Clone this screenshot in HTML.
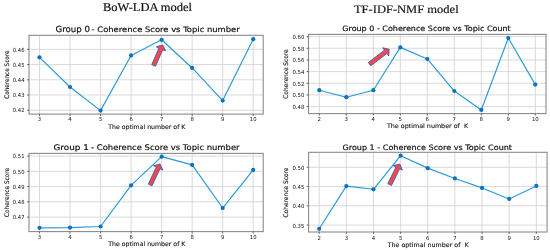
<!DOCTYPE html>
<html><head><meta charset="utf-8"><title>Coherence Score plots</title>
<style>html,body{margin:0;padding:0;background:#fff;overflow:hidden;}svg{display:block;} text{text-rendering:geometricPrecision;}</style></head>
<body><svg width="550" height="250" viewBox="0 0 550 250" font-family="'DejaVu Sans', 'Liberation Sans', sans-serif">
<defs><filter id="soft" x="0" y="0" width="1" height="1"><feGaussianBlur stdDeviation="0.25"/></filter></defs>
<rect width="550" height="250" fill="#fff"/>
<g filter="url(#soft)">
<rect width="550" height="250" fill="#fff"/>
<line x1="39.50" y1="35.3" x2="39.50" y2="114.1" stroke="#d0d0d0" stroke-width="0.8"/>
<line x1="70.03" y1="35.3" x2="70.03" y2="114.1" stroke="#d0d0d0" stroke-width="0.8"/>
<line x1="100.56" y1="35.3" x2="100.56" y2="114.1" stroke="#d0d0d0" stroke-width="0.8"/>
<line x1="131.09" y1="35.3" x2="131.09" y2="114.1" stroke="#d0d0d0" stroke-width="0.8"/>
<line x1="161.62" y1="35.3" x2="161.62" y2="114.1" stroke="#d0d0d0" stroke-width="0.8"/>
<line x1="192.15" y1="35.3" x2="192.15" y2="114.1" stroke="#d0d0d0" stroke-width="0.8"/>
<line x1="222.68" y1="35.3" x2="222.68" y2="114.1" stroke="#d0d0d0" stroke-width="0.8"/>
<line x1="253.21" y1="35.3" x2="253.21" y2="114.1" stroke="#d0d0d0" stroke-width="0.8"/>
<line x1="29" y1="110.25" x2="263.2" y2="110.25" stroke="#d0d0d0" stroke-width="0.8"/>
<line x1="29" y1="95.02" x2="263.2" y2="95.02" stroke="#d0d0d0" stroke-width="0.8"/>
<line x1="29" y1="79.79" x2="263.2" y2="79.79" stroke="#d0d0d0" stroke-width="0.8"/>
<line x1="29" y1="64.56" x2="263.2" y2="64.56" stroke="#d0d0d0" stroke-width="0.8"/>
<line x1="29" y1="49.33" x2="263.2" y2="49.33" stroke="#d0d0d0" stroke-width="0.8"/>
<rect x="29" y="35.3" width="234.20" height="78.80" fill="none" stroke="#8a8a8a" stroke-width="1.1"/>
<line x1="39.50" y1="114.1" x2="39.50" y2="116.00" stroke="#555" stroke-width="0.9"/>
<text x="39.50" y="121.17" font-size="5.6" text-anchor="middle" textLength="3.35" lengthAdjust="spacingAndGlyphs" fill="#111111">3</text>
<line x1="70.03" y1="114.1" x2="70.03" y2="116.00" stroke="#555" stroke-width="0.9"/>
<text x="70.03" y="121.17" font-size="5.6" text-anchor="middle" textLength="3.35" lengthAdjust="spacingAndGlyphs" fill="#111111">4</text>
<line x1="100.56" y1="114.1" x2="100.56" y2="116.00" stroke="#555" stroke-width="0.9"/>
<text x="100.56" y="121.17" font-size="5.6" text-anchor="middle" textLength="3.35" lengthAdjust="spacingAndGlyphs" fill="#111111">5</text>
<line x1="131.09" y1="114.1" x2="131.09" y2="116.00" stroke="#555" stroke-width="0.9"/>
<text x="131.09" y="121.17" font-size="5.6" text-anchor="middle" textLength="3.35" lengthAdjust="spacingAndGlyphs" fill="#111111">6</text>
<line x1="161.62" y1="114.1" x2="161.62" y2="116.00" stroke="#555" stroke-width="0.9"/>
<text x="161.62" y="121.17" font-size="5.6" text-anchor="middle" textLength="3.35" lengthAdjust="spacingAndGlyphs" fill="#111111">7</text>
<line x1="192.15" y1="114.1" x2="192.15" y2="116.00" stroke="#555" stroke-width="0.9"/>
<text x="192.15" y="121.17" font-size="5.6" text-anchor="middle" textLength="3.35" lengthAdjust="spacingAndGlyphs" fill="#111111">8</text>
<line x1="222.68" y1="114.1" x2="222.68" y2="116.00" stroke="#555" stroke-width="0.9"/>
<text x="222.68" y="121.17" font-size="5.6" text-anchor="middle" textLength="3.35" lengthAdjust="spacingAndGlyphs" fill="#111111">9</text>
<line x1="253.21" y1="114.1" x2="253.21" y2="116.00" stroke="#555" stroke-width="0.9"/>
<text x="253.21" y="121.17" font-size="5.6" text-anchor="middle" textLength="6.70" lengthAdjust="spacingAndGlyphs" fill="#111111">10</text>
<line x1="27.10" y1="110.25" x2="29" y2="110.25" stroke="#555" stroke-width="0.9"/>
<text x="24.5" y="112.42" font-size="5.6" text-anchor="end" textLength="11.72" lengthAdjust="spacingAndGlyphs" fill="#111111">0.42</text>
<line x1="27.10" y1="95.02" x2="29" y2="95.02" stroke="#555" stroke-width="0.9"/>
<text x="24.5" y="97.19" font-size="5.6" text-anchor="end" textLength="11.72" lengthAdjust="spacingAndGlyphs" fill="#111111">0.43</text>
<line x1="27.10" y1="79.79" x2="29" y2="79.79" stroke="#555" stroke-width="0.9"/>
<text x="24.5" y="81.96" font-size="5.6" text-anchor="end" textLength="11.72" lengthAdjust="spacingAndGlyphs" fill="#111111">0.44</text>
<line x1="27.10" y1="64.56" x2="29" y2="64.56" stroke="#555" stroke-width="0.9"/>
<text x="24.5" y="66.73" font-size="5.6" text-anchor="end" textLength="11.72" lengthAdjust="spacingAndGlyphs" fill="#111111">0.45</text>
<line x1="27.10" y1="49.33" x2="29" y2="49.33" stroke="#555" stroke-width="0.9"/>
<text x="24.5" y="51.50" font-size="5.6" text-anchor="end" textLength="11.72" lengthAdjust="spacingAndGlyphs" fill="#111111">0.46</text>
<polyline points="39.50,57.29 70.03,86.99 100.56,110.60 131.09,55.47 161.62,39.78 192.15,67.96 222.68,100.55 253.21,39.17" fill="none" stroke="#279ad6" stroke-width="1.15" stroke-linejoin="round"/>
<circle cx="39.50" cy="57.29" r="2.1" fill="#0a72bd"/>
<circle cx="70.03" cy="86.99" r="2.1" fill="#0a72bd"/>
<circle cx="100.56" cy="110.60" r="2.1" fill="#0a72bd"/>
<circle cx="131.09" cy="55.47" r="2.1" fill="#0a72bd"/>
<circle cx="161.62" cy="39.78" r="2.1" fill="#0a72bd"/>
<circle cx="192.15" cy="67.96" r="2.1" fill="#0a72bd"/>
<circle cx="222.68" cy="100.55" r="2.1" fill="#0a72bd"/>
<circle cx="253.21" cy="39.17" r="2.1" fill="#0a72bd"/>
<text x="108.20" y="128.90" font-family="'DejaVu Sans', 'Liberation Sans', sans-serif" font-weight="normal" font-size="6.10" textLength="77.21" lengthAdjust="spacingAndGlyphs" fill="#111111" stroke="#111111" stroke-width="0.1" xml:space="preserve">The optimal number of K</text>
<text transform="translate(8.80,98.74) scale(1.09,1) rotate(-90)" x="0" y="0" font-size="5.70" textLength="48.23" lengthAdjust="spacingAndGlyphs" fill="#111111" stroke="#111111" stroke-width="0.1">Coherence Score</text>
<text x="55.48" y="31.90" font-family="'DejaVu Sans', 'Liberation Sans', sans-serif" font-weight="normal" font-size="8.30" textLength="34.61" lengthAdjust="spacingAndGlyphs" fill="#0a0a0a" stroke="#0a0a0a" stroke-width="0.16" xml:space="preserve">Group 0</text>
<text x="91.58" y="32.40" font-family="'DejaVu Sans', 'Liberation Sans', sans-serif" font-weight="normal" font-size="7.50" textLength="148.15" lengthAdjust="spacingAndGlyphs" fill="#0a0a0a" stroke="#0a0a0a" stroke-width="0.16" xml:space="preserve">- Coherence Score vs Topic number</text>
<line x1="39.50" y1="153.4" x2="39.50" y2="231.6" stroke="#d0d0d0" stroke-width="0.8"/>
<line x1="70.03" y1="153.4" x2="70.03" y2="231.6" stroke="#d0d0d0" stroke-width="0.8"/>
<line x1="100.56" y1="153.4" x2="100.56" y2="231.6" stroke="#d0d0d0" stroke-width="0.8"/>
<line x1="131.09" y1="153.4" x2="131.09" y2="231.6" stroke="#d0d0d0" stroke-width="0.8"/>
<line x1="161.62" y1="153.4" x2="161.62" y2="231.6" stroke="#d0d0d0" stroke-width="0.8"/>
<line x1="192.15" y1="153.4" x2="192.15" y2="231.6" stroke="#d0d0d0" stroke-width="0.8"/>
<line x1="222.68" y1="153.4" x2="222.68" y2="231.6" stroke="#d0d0d0" stroke-width="0.8"/>
<line x1="253.21" y1="153.4" x2="253.21" y2="231.6" stroke="#d0d0d0" stroke-width="0.8"/>
<line x1="29" y1="217.10" x2="263.2" y2="217.10" stroke="#d0d0d0" stroke-width="0.8"/>
<line x1="29" y1="201.85" x2="263.2" y2="201.85" stroke="#d0d0d0" stroke-width="0.8"/>
<line x1="29" y1="186.60" x2="263.2" y2="186.60" stroke="#d0d0d0" stroke-width="0.8"/>
<line x1="29" y1="171.35" x2="263.2" y2="171.35" stroke="#d0d0d0" stroke-width="0.8"/>
<line x1="29" y1="156.10" x2="263.2" y2="156.10" stroke="#d0d0d0" stroke-width="0.8"/>
<rect x="29" y="153.4" width="234.20" height="78.20" fill="none" stroke="#8a8a8a" stroke-width="1.1"/>
<line x1="39.50" y1="231.6" x2="39.50" y2="233.50" stroke="#555" stroke-width="0.9"/>
<text x="39.50" y="238.87" font-size="5.6" text-anchor="middle" textLength="3.35" lengthAdjust="spacingAndGlyphs" fill="#111111">3</text>
<line x1="70.03" y1="231.6" x2="70.03" y2="233.50" stroke="#555" stroke-width="0.9"/>
<text x="70.03" y="238.87" font-size="5.6" text-anchor="middle" textLength="3.35" lengthAdjust="spacingAndGlyphs" fill="#111111">4</text>
<line x1="100.56" y1="231.6" x2="100.56" y2="233.50" stroke="#555" stroke-width="0.9"/>
<text x="100.56" y="238.87" font-size="5.6" text-anchor="middle" textLength="3.35" lengthAdjust="spacingAndGlyphs" fill="#111111">5</text>
<line x1="131.09" y1="231.6" x2="131.09" y2="233.50" stroke="#555" stroke-width="0.9"/>
<text x="131.09" y="238.87" font-size="5.6" text-anchor="middle" textLength="3.35" lengthAdjust="spacingAndGlyphs" fill="#111111">6</text>
<line x1="161.62" y1="231.6" x2="161.62" y2="233.50" stroke="#555" stroke-width="0.9"/>
<text x="161.62" y="238.87" font-size="5.6" text-anchor="middle" textLength="3.35" lengthAdjust="spacingAndGlyphs" fill="#111111">7</text>
<line x1="192.15" y1="231.6" x2="192.15" y2="233.50" stroke="#555" stroke-width="0.9"/>
<text x="192.15" y="238.87" font-size="5.6" text-anchor="middle" textLength="3.35" lengthAdjust="spacingAndGlyphs" fill="#111111">8</text>
<line x1="222.68" y1="231.6" x2="222.68" y2="233.50" stroke="#555" stroke-width="0.9"/>
<text x="222.68" y="238.87" font-size="5.6" text-anchor="middle" textLength="3.35" lengthAdjust="spacingAndGlyphs" fill="#111111">9</text>
<line x1="253.21" y1="231.6" x2="253.21" y2="233.50" stroke="#555" stroke-width="0.9"/>
<text x="253.21" y="238.87" font-size="5.6" text-anchor="middle" textLength="6.70" lengthAdjust="spacingAndGlyphs" fill="#111111">10</text>
<line x1="27.10" y1="217.10" x2="29" y2="217.10" stroke="#555" stroke-width="0.9"/>
<text x="24.5" y="219.27" font-size="5.6" text-anchor="end" textLength="11.72" lengthAdjust="spacingAndGlyphs" fill="#111111">0.47</text>
<line x1="27.10" y1="201.85" x2="29" y2="201.85" stroke="#555" stroke-width="0.9"/>
<text x="24.5" y="204.02" font-size="5.6" text-anchor="end" textLength="11.72" lengthAdjust="spacingAndGlyphs" fill="#111111">0.48</text>
<line x1="27.10" y1="186.60" x2="29" y2="186.60" stroke="#555" stroke-width="0.9"/>
<text x="24.5" y="188.77" font-size="5.6" text-anchor="end" textLength="11.72" lengthAdjust="spacingAndGlyphs" fill="#111111">0.49</text>
<line x1="27.10" y1="171.35" x2="29" y2="171.35" stroke="#555" stroke-width="0.9"/>
<text x="24.5" y="173.52" font-size="5.6" text-anchor="end" textLength="11.72" lengthAdjust="spacingAndGlyphs" fill="#111111">0.50</text>
<line x1="27.10" y1="156.10" x2="29" y2="156.10" stroke="#555" stroke-width="0.9"/>
<text x="24.5" y="158.27" font-size="5.6" text-anchor="end" textLength="11.72" lengthAdjust="spacingAndGlyphs" fill="#111111">0.51</text>
<polyline points="39.50,227.87 70.03,227.56 100.56,226.50 131.09,185.32 161.62,156.65 192.15,164.89 222.68,208.04 253.21,169.92" fill="none" stroke="#279ad6" stroke-width="1.15" stroke-linejoin="round"/>
<circle cx="39.50" cy="227.87" r="2.1" fill="#0a72bd"/>
<circle cx="70.03" cy="227.56" r="2.1" fill="#0a72bd"/>
<circle cx="100.56" cy="226.50" r="2.1" fill="#0a72bd"/>
<circle cx="131.09" cy="185.32" r="2.1" fill="#0a72bd"/>
<circle cx="161.62" cy="156.65" r="2.1" fill="#0a72bd"/>
<circle cx="192.15" cy="164.89" r="2.1" fill="#0a72bd"/>
<circle cx="222.68" cy="208.04" r="2.1" fill="#0a72bd"/>
<circle cx="253.21" cy="169.92" r="2.1" fill="#0a72bd"/>
<text x="108.20" y="246.10" font-family="'DejaVu Sans', 'Liberation Sans', sans-serif" font-weight="normal" font-size="6.10" textLength="77.21" lengthAdjust="spacingAndGlyphs" fill="#111111" stroke="#111111" stroke-width="0.1" xml:space="preserve">The optimal number of K</text>
<text transform="translate(9.00,216.95) scale(1.09,1) rotate(-90)" x="0" y="0" font-size="5.70" textLength="49.04" lengthAdjust="spacingAndGlyphs" fill="#111111" stroke="#111111" stroke-width="0.1">Coherence Score</text>
<text x="53.47" y="150.20" font-family="'DejaVu Sans', 'Liberation Sans', sans-serif" font-weight="normal" font-size="7.75" textLength="35.31" lengthAdjust="spacingAndGlyphs" fill="#0a0a0a" stroke="#0a0a0a" stroke-width="0.16" xml:space="preserve">Group 1</text>
<text x="91.08" y="150.10" font-family="'DejaVu Sans', 'Liberation Sans', sans-serif" font-weight="normal" font-size="7.70" textLength="148.45" lengthAdjust="spacingAndGlyphs" fill="#0a0a0a" stroke="#0a0a0a" stroke-width="0.16" xml:space="preserve">- Coherence Score vs Topic number</text>
<line x1="319.30" y1="34.4" x2="319.30" y2="113.6" stroke="#d0d0d0" stroke-width="0.8"/>
<line x1="346.30" y1="34.4" x2="346.30" y2="113.6" stroke="#d0d0d0" stroke-width="0.8"/>
<line x1="373.30" y1="34.4" x2="373.30" y2="113.6" stroke="#d0d0d0" stroke-width="0.8"/>
<line x1="400.30" y1="34.4" x2="400.30" y2="113.6" stroke="#d0d0d0" stroke-width="0.8"/>
<line x1="427.30" y1="34.4" x2="427.30" y2="113.6" stroke="#d0d0d0" stroke-width="0.8"/>
<line x1="454.30" y1="34.4" x2="454.30" y2="113.6" stroke="#d0d0d0" stroke-width="0.8"/>
<line x1="481.30" y1="34.4" x2="481.30" y2="113.6" stroke="#d0d0d0" stroke-width="0.8"/>
<line x1="508.30" y1="34.4" x2="508.30" y2="113.6" stroke="#d0d0d0" stroke-width="0.8"/>
<line x1="535.30" y1="34.4" x2="535.30" y2="113.6" stroke="#d0d0d0" stroke-width="0.8"/>
<line x1="308.5" y1="106.60" x2="546" y2="106.60" stroke="#d0d0d0" stroke-width="0.8"/>
<line x1="308.5" y1="94.93" x2="546" y2="94.93" stroke="#d0d0d0" stroke-width="0.8"/>
<line x1="308.5" y1="83.27" x2="546" y2="83.27" stroke="#d0d0d0" stroke-width="0.8"/>
<line x1="308.5" y1="71.60" x2="546" y2="71.60" stroke="#d0d0d0" stroke-width="0.8"/>
<line x1="308.5" y1="59.94" x2="546" y2="59.94" stroke="#d0d0d0" stroke-width="0.8"/>
<line x1="308.5" y1="48.27" x2="546" y2="48.27" stroke="#d0d0d0" stroke-width="0.8"/>
<line x1="308.5" y1="36.60" x2="546" y2="36.60" stroke="#d0d0d0" stroke-width="0.8"/>
<rect x="308.5" y="34.4" width="237.50" height="79.20" fill="none" stroke="#8a8a8a" stroke-width="1.1"/>
<line x1="319.30" y1="113.6" x2="319.30" y2="115.50" stroke="#555" stroke-width="0.9"/>
<text x="319.30" y="120.77" font-size="5.6" text-anchor="middle" textLength="3.42" lengthAdjust="spacingAndGlyphs" fill="#111111">2</text>
<line x1="346.30" y1="113.6" x2="346.30" y2="115.50" stroke="#555" stroke-width="0.9"/>
<text x="346.30" y="120.77" font-size="5.6" text-anchor="middle" textLength="3.42" lengthAdjust="spacingAndGlyphs" fill="#111111">3</text>
<line x1="373.30" y1="113.6" x2="373.30" y2="115.50" stroke="#555" stroke-width="0.9"/>
<text x="373.30" y="120.77" font-size="5.6" text-anchor="middle" textLength="3.42" lengthAdjust="spacingAndGlyphs" fill="#111111">4</text>
<line x1="400.30" y1="113.6" x2="400.30" y2="115.50" stroke="#555" stroke-width="0.9"/>
<text x="400.30" y="120.77" font-size="5.6" text-anchor="middle" textLength="3.42" lengthAdjust="spacingAndGlyphs" fill="#111111">5</text>
<line x1="427.30" y1="113.6" x2="427.30" y2="115.50" stroke="#555" stroke-width="0.9"/>
<text x="427.30" y="120.77" font-size="5.6" text-anchor="middle" textLength="3.42" lengthAdjust="spacingAndGlyphs" fill="#111111">6</text>
<line x1="454.30" y1="113.6" x2="454.30" y2="115.50" stroke="#555" stroke-width="0.9"/>
<text x="454.30" y="120.77" font-size="5.6" text-anchor="middle" textLength="3.42" lengthAdjust="spacingAndGlyphs" fill="#111111">7</text>
<line x1="481.30" y1="113.6" x2="481.30" y2="115.50" stroke="#555" stroke-width="0.9"/>
<text x="481.30" y="120.77" font-size="5.6" text-anchor="middle" textLength="3.42" lengthAdjust="spacingAndGlyphs" fill="#111111">8</text>
<line x1="508.30" y1="113.6" x2="508.30" y2="115.50" stroke="#555" stroke-width="0.9"/>
<text x="508.30" y="120.77" font-size="5.6" text-anchor="middle" textLength="3.42" lengthAdjust="spacingAndGlyphs" fill="#111111">9</text>
<line x1="535.30" y1="113.6" x2="535.30" y2="115.50" stroke="#555" stroke-width="0.9"/>
<text x="535.30" y="120.77" font-size="5.6" text-anchor="middle" textLength="6.84" lengthAdjust="spacingAndGlyphs" fill="#111111">10</text>
<line x1="306.60" y1="106.60" x2="308.5" y2="106.60" stroke="#555" stroke-width="0.9"/>
<text x="304.4" y="108.97" font-size="5.6" text-anchor="end" textLength="11.97" lengthAdjust="spacingAndGlyphs" fill="#111111">0.48</text>
<line x1="306.60" y1="94.93" x2="308.5" y2="94.93" stroke="#555" stroke-width="0.9"/>
<text x="304.4" y="97.31" font-size="5.6" text-anchor="end" textLength="11.97" lengthAdjust="spacingAndGlyphs" fill="#111111">0.50</text>
<line x1="306.60" y1="83.27" x2="308.5" y2="83.27" stroke="#555" stroke-width="0.9"/>
<text x="304.4" y="85.64" font-size="5.6" text-anchor="end" textLength="11.97" lengthAdjust="spacingAndGlyphs" fill="#111111">0.52</text>
<line x1="306.60" y1="71.60" x2="308.5" y2="71.60" stroke="#555" stroke-width="0.9"/>
<text x="304.4" y="73.97" font-size="5.6" text-anchor="end" textLength="11.97" lengthAdjust="spacingAndGlyphs" fill="#111111">0.54</text>
<line x1="306.60" y1="59.94" x2="308.5" y2="59.94" stroke="#555" stroke-width="0.9"/>
<text x="304.4" y="62.31" font-size="5.6" text-anchor="end" textLength="11.97" lengthAdjust="spacingAndGlyphs" fill="#111111">0.56</text>
<line x1="306.60" y1="48.27" x2="308.5" y2="48.27" stroke="#555" stroke-width="0.9"/>
<text x="304.4" y="50.64" font-size="5.6" text-anchor="end" textLength="11.97" lengthAdjust="spacingAndGlyphs" fill="#111111">0.58</text>
<line x1="306.60" y1="36.60" x2="308.5" y2="36.60" stroke="#555" stroke-width="0.9"/>
<text x="304.4" y="38.98" font-size="5.6" text-anchor="end" textLength="11.97" lengthAdjust="spacingAndGlyphs" fill="#111111">0.60</text>
<polyline points="319.30,90.20 346.30,97.20 373.30,90.20 400.30,47.39 427.30,58.99 454.30,91.02 481.30,109.97 508.30,38.00 535.30,84.60" fill="none" stroke="#279ad6" stroke-width="1.15" stroke-linejoin="round"/>
<circle cx="319.30" cy="90.20" r="2.1" fill="#0a72bd"/>
<circle cx="346.30" cy="97.20" r="2.1" fill="#0a72bd"/>
<circle cx="373.30" cy="90.20" r="2.1" fill="#0a72bd"/>
<circle cx="400.30" cy="47.39" r="2.1" fill="#0a72bd"/>
<circle cx="427.30" cy="58.99" r="2.1" fill="#0a72bd"/>
<circle cx="454.30" cy="91.02" r="2.1" fill="#0a72bd"/>
<circle cx="481.30" cy="109.97" r="2.1" fill="#0a72bd"/>
<circle cx="508.30" cy="38.00" r="2.1" fill="#0a72bd"/>
<circle cx="535.30" cy="84.60" r="2.1" fill="#0a72bd"/>
<text x="386.90" y="128.40" font-family="'DejaVu Sans', 'Liberation Sans', sans-serif" font-weight="normal" font-size="6.10" textLength="81.19" lengthAdjust="spacingAndGlyphs" fill="#111111" stroke="#111111" stroke-width="0.1" xml:space="preserve">The optimal number of  K</text>
<text transform="translate(288.20,98.75) scale(1.09,1) rotate(-90)" x="0" y="0" font-size="5.70" textLength="49.45" lengthAdjust="spacingAndGlyphs" fill="#111111" stroke="#111111" stroke-width="0.1">Coherence Score</text>
<text x="342.32" y="31.00" font-family="'DejaVu Sans', 'Liberation Sans', sans-serif" font-weight="normal" font-size="7.40" textLength="168.40" lengthAdjust="spacingAndGlyphs" fill="#0a0a0a" stroke="#0a0a0a" stroke-width="0.16" xml:space="preserve">Group 0 - Coherence Score vs Topic Count</text>
<line x1="319.20" y1="152.3" x2="319.20" y2="232" stroke="#d0d0d0" stroke-width="0.8"/>
<line x1="346.34" y1="152.3" x2="346.34" y2="232" stroke="#d0d0d0" stroke-width="0.8"/>
<line x1="373.48" y1="152.3" x2="373.48" y2="232" stroke="#d0d0d0" stroke-width="0.8"/>
<line x1="400.62" y1="152.3" x2="400.62" y2="232" stroke="#d0d0d0" stroke-width="0.8"/>
<line x1="427.76" y1="152.3" x2="427.76" y2="232" stroke="#d0d0d0" stroke-width="0.8"/>
<line x1="454.90" y1="152.3" x2="454.90" y2="232" stroke="#d0d0d0" stroke-width="0.8"/>
<line x1="482.04" y1="152.3" x2="482.04" y2="232" stroke="#d0d0d0" stroke-width="0.8"/>
<line x1="509.18" y1="152.3" x2="509.18" y2="232" stroke="#d0d0d0" stroke-width="0.8"/>
<line x1="536.32" y1="152.3" x2="536.32" y2="232" stroke="#d0d0d0" stroke-width="0.8"/>
<line x1="308.6" y1="225.10" x2="547.1" y2="225.10" stroke="#d0d0d0" stroke-width="0.8"/>
<line x1="308.6" y1="205.83" x2="547.1" y2="205.83" stroke="#d0d0d0" stroke-width="0.8"/>
<line x1="308.6" y1="186.57" x2="547.1" y2="186.57" stroke="#d0d0d0" stroke-width="0.8"/>
<line x1="308.6" y1="167.30" x2="547.1" y2="167.30" stroke="#d0d0d0" stroke-width="0.8"/>
<rect x="308.6" y="152.3" width="238.50" height="79.70" fill="none" stroke="#8a8a8a" stroke-width="1.1"/>
<line x1="319.20" y1="232" x2="319.20" y2="233.90" stroke="#555" stroke-width="0.9"/>
<text x="319.20" y="239.57" font-size="5.6" text-anchor="middle" textLength="3.42" lengthAdjust="spacingAndGlyphs" fill="#111111">2</text>
<line x1="346.34" y1="232" x2="346.34" y2="233.90" stroke="#555" stroke-width="0.9"/>
<text x="346.34" y="239.57" font-size="5.6" text-anchor="middle" textLength="3.42" lengthAdjust="spacingAndGlyphs" fill="#111111">3</text>
<line x1="373.48" y1="232" x2="373.48" y2="233.90" stroke="#555" stroke-width="0.9"/>
<text x="373.48" y="239.57" font-size="5.6" text-anchor="middle" textLength="3.42" lengthAdjust="spacingAndGlyphs" fill="#111111">4</text>
<line x1="400.62" y1="232" x2="400.62" y2="233.90" stroke="#555" stroke-width="0.9"/>
<text x="400.62" y="239.57" font-size="5.6" text-anchor="middle" textLength="3.42" lengthAdjust="spacingAndGlyphs" fill="#111111">5</text>
<line x1="427.76" y1="232" x2="427.76" y2="233.90" stroke="#555" stroke-width="0.9"/>
<text x="427.76" y="239.57" font-size="5.6" text-anchor="middle" textLength="3.42" lengthAdjust="spacingAndGlyphs" fill="#111111">6</text>
<line x1="454.90" y1="232" x2="454.90" y2="233.90" stroke="#555" stroke-width="0.9"/>
<text x="454.90" y="239.57" font-size="5.6" text-anchor="middle" textLength="3.42" lengthAdjust="spacingAndGlyphs" fill="#111111">7</text>
<line x1="482.04" y1="232" x2="482.04" y2="233.90" stroke="#555" stroke-width="0.9"/>
<text x="482.04" y="239.57" font-size="5.6" text-anchor="middle" textLength="3.42" lengthAdjust="spacingAndGlyphs" fill="#111111">8</text>
<line x1="509.18" y1="232" x2="509.18" y2="233.90" stroke="#555" stroke-width="0.9"/>
<text x="509.18" y="239.57" font-size="5.6" text-anchor="middle" textLength="3.42" lengthAdjust="spacingAndGlyphs" fill="#111111">9</text>
<line x1="536.32" y1="232" x2="536.32" y2="233.90" stroke="#555" stroke-width="0.9"/>
<text x="536.32" y="239.57" font-size="5.6" text-anchor="middle" textLength="6.84" lengthAdjust="spacingAndGlyphs" fill="#111111">10</text>
<line x1="306.70" y1="225.10" x2="308.6" y2="225.10" stroke="#555" stroke-width="0.9"/>
<text x="304.4" y="227.67" font-size="5.6" text-anchor="end" textLength="11.97" lengthAdjust="spacingAndGlyphs" fill="#111111">0.35</text>
<line x1="306.70" y1="205.83" x2="308.6" y2="205.83" stroke="#555" stroke-width="0.9"/>
<text x="304.4" y="208.41" font-size="5.6" text-anchor="end" textLength="11.97" lengthAdjust="spacingAndGlyphs" fill="#111111">0.40</text>
<line x1="306.70" y1="186.57" x2="308.6" y2="186.57" stroke="#555" stroke-width="0.9"/>
<text x="304.4" y="189.14" font-size="5.6" text-anchor="end" textLength="11.97" lengthAdjust="spacingAndGlyphs" fill="#111111">0.45</text>
<line x1="306.70" y1="167.30" x2="308.6" y2="167.30" stroke="#555" stroke-width="0.9"/>
<text x="304.4" y="169.88" font-size="5.6" text-anchor="end" textLength="11.97" lengthAdjust="spacingAndGlyphs" fill="#111111">0.50</text>
<polyline points="319.20,228.79 346.34,186.10 373.48,189.29 400.62,155.66 427.76,168.14 454.90,178.43 482.04,187.91 509.18,198.96 536.32,185.90" fill="none" stroke="#279ad6" stroke-width="1.15" stroke-linejoin="round"/>
<circle cx="319.20" cy="228.79" r="2.1" fill="#0a72bd"/>
<circle cx="346.34" cy="186.10" r="2.1" fill="#0a72bd"/>
<circle cx="373.48" cy="189.29" r="2.1" fill="#0a72bd"/>
<circle cx="400.62" cy="155.66" r="2.1" fill="#0a72bd"/>
<circle cx="427.76" cy="168.14" r="2.1" fill="#0a72bd"/>
<circle cx="454.90" cy="178.43" r="2.1" fill="#0a72bd"/>
<circle cx="482.04" cy="187.91" r="2.1" fill="#0a72bd"/>
<circle cx="509.18" cy="198.96" r="2.1" fill="#0a72bd"/>
<circle cx="536.32" cy="185.90" r="2.1" fill="#0a72bd"/>
<text x="387.60" y="247.30" font-family="'DejaVu Sans', 'Liberation Sans', sans-serif" font-weight="normal" font-size="6.10" textLength="80.99" lengthAdjust="spacingAndGlyphs" fill="#111111" stroke="#111111" stroke-width="0.1" xml:space="preserve">The optimal number of  K</text>
<text transform="translate(288.20,217.55) scale(1.09,1) rotate(-90)" x="0" y="0" font-size="5.70" textLength="50.06" lengthAdjust="spacingAndGlyphs" fill="#111111" stroke="#111111" stroke-width="0.1">Coherence Score</text>
<text x="342.52" y="149.50" font-family="'DejaVu Sans', 'Liberation Sans', sans-serif" font-weight="normal" font-size="7.40" textLength="169.50" lengthAdjust="spacingAndGlyphs" fill="#0a0a0a" stroke="#0a0a0a" stroke-width="0.16" xml:space="preserve">Group 1 - Coherence Score vs Topic Count</text>
<polygon points="155.49,66.26 162.77,49.67 165.56,50.90 162.62,44.91 156.22,46.80 159.01,48.03 151.73,64.61" fill="#f34a4a" stroke="#3055b5" stroke-width="0.85" stroke-linejoin="miter"/>
<polygon points="152.03,185.81 160.03,168.77 162.79,170.07 160.01,164.01 153.56,165.73 156.32,167.03 148.31,184.07" fill="#f34a4a" stroke="#3055b5" stroke-width="0.85" stroke-linejoin="miter"/>
<polygon points="370.76,65.79 386.95,53.50 388.80,55.93 389.14,49.27 382.63,47.81 384.48,50.24 368.28,62.53" fill="#f34a4a" stroke="#3055b5" stroke-width="0.85" stroke-linejoin="miter"/>
<polygon points="391.52,185.44 399.66,168.77 402.40,170.11 399.70,164.00 393.23,165.63 395.97,166.97 387.83,183.64" fill="#f34a4a" stroke="#3055b5" stroke-width="0.85" stroke-linejoin="miter"/>
<text x="103.03" y="11.10" font-family="'Liberation Serif', 'DejaVu Serif', serif" font-weight="normal" font-size="11.90" textLength="89.00" lengthAdjust="spacingAndGlyphs" fill="#111" stroke="#111" stroke-width="0.2" xml:space="preserve">BoW-LDA model</text>
<text x="353.95" y="12.70" font-family="'Liberation Serif', 'DejaVu Serif', serif" font-weight="normal" font-size="11.50" textLength="104.72" lengthAdjust="spacingAndGlyphs" fill="#151515" stroke="#151515" stroke-width="0.18" xml:space="preserve">TF-IDF-NMF model</text>
</g>
</svg></body></html>
